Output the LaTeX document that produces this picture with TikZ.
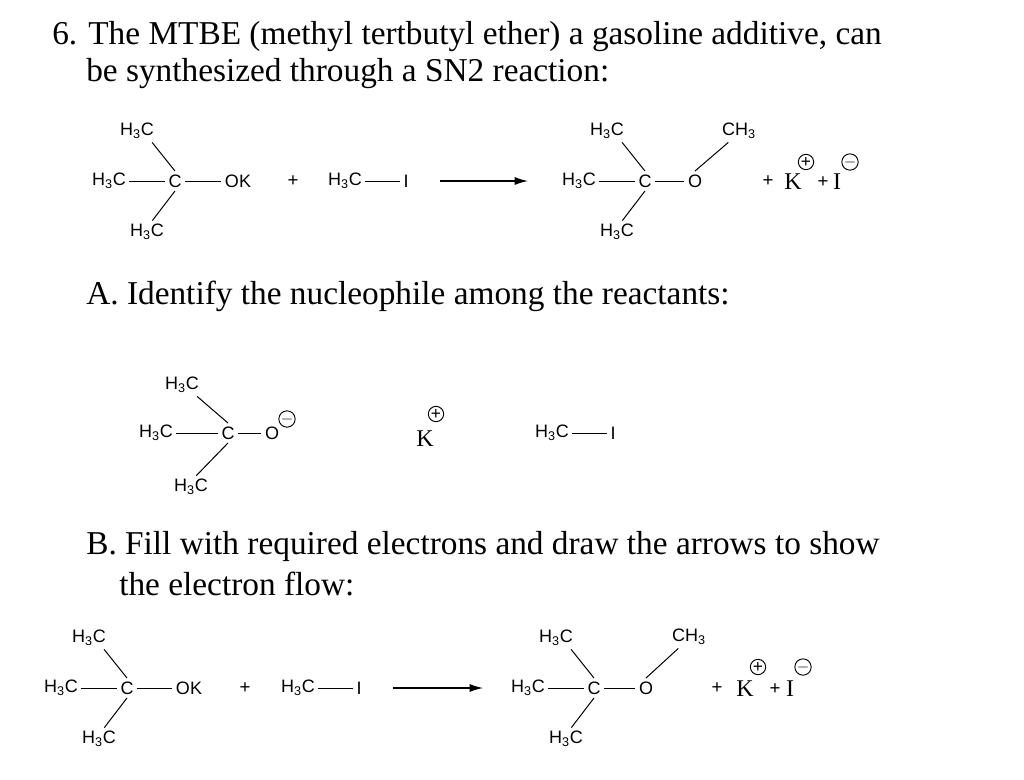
\documentclass[tikz,border=0pt]{standalone}
\usepackage{fontspec}
\setmainfont{Liberation Serif}
\setsansfont{Liberation Sans}
\usetikzlibrary{arrows.meta}
\tikzset{
 lab/.style={font=\sffamily\fontsize{13.5}{13.5}\selectfont, inner sep=2.5pt},
 pls/.style={font=\sffamily\fontsize{14}{14}\selectfont, inner sep=1pt},
 ion/.style={font=\fontsize{18}{18}\selectfont, inner sep=0pt},
 txt/.style={font=\fontsize{25}{26}\selectfont, anchor=west, inner sep=0pt},
 bond/.style={line width=0.75pt},
 chg/.style={circle, draw, line width=0.7pt, minimum size=11.5pt, inner sep=0pt, font=\sffamily\fontsize{13}{13}\selectfont},
 rxn/.style={line width=0.9pt, -{Latex[length=10pt,width=6pt]}}
}
\newcommand{\tmeth}{H\textsubscript{3}C}
\newcommand{\CHt}{CH\textsubscript{3}}
\newcommand{\tbu}[5]{%
 \node[lab] (#1C) at (#2,#3) {C};
 \node[lab] (#1L) at (#2-66,#3) {\tmeth};
 \node[lab] (#1T) at (#2-38,#3-50) {\tmeth};
 \node[lab] (#1B) at (#2-28,#3+51) {\tmeth};
 \node[lab] (#1R) at (#2+#5,#3) {#4};
 \draw[bond] (#1L) -- (#1C);
 \draw[bond] (#1C) -- (#1R);
 \draw[bond] ([xshift=-4pt]#1T.south east) -- (#1C.north);
 \draw[bond] (#1C.south) -- ([xshift=4pt]#1B.north);
}
\begin{document}
\begin{tikzpicture}[x=0.75pt,y=-0.75pt]
\useasboundingbox (0,0) rectangle (1024,779);
\node[txt] (t1) at (52,37) {6. The MTBE (methyl tertbutyl ether) a gasoline additive, can};
\node[txt] (t2) at (86,74) {be synthesized through a SN2 reaction:};
\node[txt] (tA) at (86,296) {A. Identify the nucleophile among the reactants:};
\node[txt] (tB) at (86,546) {B. Fill with required electrons and draw the arrows to show};
\node[txt] (tB2) at (119,584) {the electron flow:};

% ---- top reaction
\tbu{a}{175}{181}{OK}{63}
\node[pls] (p1) at (293,181) {+};
\node[lab] (mL) at (345,181) {\tmeth};
\node[lab] (mI) at (406,181) {I};
\draw[bond] (mL) -- (mI);
\coordinate (r1s) at (440,181); \coordinate (r1e) at (528,181);
\draw[rxn] (r1s) -- (r1e);
\tbu{b}{645}{181}{O}{50}
\node[lab] (bM) at (739,131) {\CHt};
\draw[bond] (bR.north) -- ([xshift=-8pt]bM.south);
\node[pls] (p2) at (768,181) {+};
\node[ion] (k1) at (793,182) {K};
\node[chg] (k1c) at (806,162) {+};
\node[pls] (p3) at (823,182) {+};
\node[ion] (i1) at (837,182) {I};
\node[chg] (i1c) at (850,162) {$-$};

% ---- part A
\node[lab] (cC) at (228,433) {C};
\node[lab] (cL) at (156,433) {\tmeth};
\node[lab] (cT) at (182,385) {\tmeth};
\node[lab] (cB) at (191,487) {\tmeth};
\node[lab] (cR) at (272,433) {O};
\draw[bond] (cL) -- (cC);
\draw[bond] (cC) -- (cR);
\draw[bond] ([xshift=-4pt]cT.south east) -- (cC.north);
\draw[bond] (cC.south) -- ([xshift=4pt]cB.north);
\node[chg] (cRc) at (287,419) {$-$};
\node[ion] (k2) at (425,439) {K};
\node[chg] (k2c) at (436,414) {+};
\node[lab] (nL) at (552,433) {\tmeth};
\node[lab] (nI) at (613,433) {I};
\draw[bond] (nL) -- (nI);

% ---- part B
\tbu{d}{127}{688}{OK}{62}
\node[pls] (p4) at (245,688) {+};
\node[lab] (qL) at (298,688) {\tmeth};
\node[lab] (qI) at (359,688) {I};
\draw[bond] (qL) -- (qI);
\coordinate (r2s) at (393,688); \coordinate (r2e) at (483,688);
\draw[rxn] (r2s) -- (r2e);
\tbu{e}{594}{688}{O}{52}
\node[lab] (eM) at (689,637) {\CHt};
\draw[bond] (eR.north) -- ([xshift=-8pt]eM.south);
\node[pls] (p5) at (717,688) {+};
\node[ion] (k3) at (745,689) {K};
\node[chg] (k3c) at (758,667) {+};
\node[pls] (p6) at (775,689) {+};
\node[ion] (i3) at (790,689) {I};
\node[chg] (i3c) at (803,667) {$-$};
\end{tikzpicture}
\end{document}
